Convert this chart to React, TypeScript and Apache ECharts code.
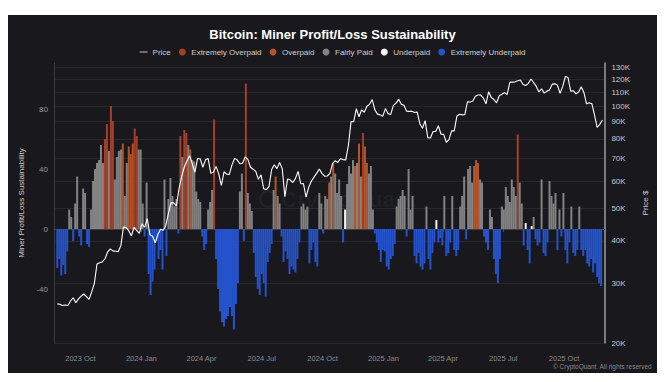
import React, { useEffect, useRef } from "react";
import * as echarts from "echarts";

// ---- data ----
// Miner Profit/Loss Sustainability, one reading every 3 days from 2023-08-27
const BAR_START: [number, number, number] = [2023, 7, 27];
const BAR_STEP_DAYS = 3;
const sustainability: number[] = [
  -26, -20, -31, -24, -30, -15, 13, 8, -8, 17,
  35, -5, -11, 27, 24, -10, -12, 13, 32, 40,
  44, 46, 56, 44, 60, 70, 52, 82, 72, 33,
  48, 52, 53, 57, 22, 44, 55, 50, 57, 67,
  62, 53, 53, 17, -5, 31, -30, -44, -35, -27,
  -8, -20, -14, -27, 33, -18, 20, 34, 22, 15,
  20, -3, 62, 48, 66, 64, 56, 53, 46, 45,
  25, 20, 18, -5, -14, -10, 13, 18, 26, 73,
  -20, -40, -55, -62, -65, -60, -58, -52, -58, -67,
  -50, -36, 25, 37, -8, 97, 24, 17, 12, -16,
  -32, -40, -44, -30, -36, -45, -22, -16, -10, 26,
  35, 22, 17, -5, -22, -15, -20, -30, -25, -27,
  -29, -20, -9, 15, 17, 13, 15, -23, -14, -9,
  -22, -25, 24, 17, -3, 22, 20, 31, 35, 44,
  37, 24, 33, 22, -9, 13, 30, 42, 37, 46,
  42, 44, 57, 35, 64, 55, 44, 37, 42, 13,
  -3, -9, -14, -22, -14, -15, -25, -27, -20, -18,
  -10, 15, 20, 22, 26, 22, -5, 40, 13, 22,
  -18, -23, -16, -25, -27, -23, 15, -20, -27, -16,
  -9, 6, -9, -6, -11, 22, -18, -16, -9, 22,
  -14, -18, -14, 15, 22, 35, -7, 40, 42, 31,
  42, 46, 44, 33, 31, -5, -9, -14, 13, 8,
  -20, -30, -36, -20, 15, 13, 28, 22, 18, 33,
  28, 22, 63, 31, 17, -11, 4, -14, -23, 2,
  8, -7, -11, -9, 33, -16, -18, -9, 32, 22,
  17, 24, -14, 13, -5, 24, -14, -23, -9, 15,
  -16, -18, -14, 15, -14, -18, -14, -23, -25, -20,
  -29, -23, -32, -36, -38,
];
// zone of each reading: r = extremely overpaid, o = overpaid, g = fairly paid, w = underpaid, b = extremely underpaid
const zoneCodes: string[] = [
  "bbbbbbggbg", "gbbggbbggg", "ggggrrgrrg", "gggoggooor", "rgggbgbbbb",
  "bbbbgbgggg", "gbrgrrgogg", "gggbbbgggr", "bbbbbbbbbb", "bbggbrgggb",
  "bbbbbbbbbg", "oggbbbbbbb", "bbbggggbbb", "bbggbggogo", "ggggbwgggg",
  "ogogrooggg", "bbbbbbbbbb", "bgggggbggg", "bbbbbbgbbb", "bwbbbgbbbg",
  "bbbgggbggg", "oooggbbbgg", "bbbbgggggg", "ggrggbwbbw", "gbbbgbbbgg",
  "ggbgbgbbbg", "bbbgbbbbbb", "bbbbb",
];

// BTC price (thousand USD), one reading every 4 days from 2023-08-27
const PRICE_START: [number, number, number] = [2023, 7, 27];
const PRICE_STEP_DAYS = 4;
const priceK: number[] = [
  26.1, 26.0, 25.8, 25.9, 25.8, 26.6, 27.2, 26.3, 27.0, 27.5,
  27.9, 27.4, 26.9, 28.3, 30.0, 34.2, 34.5, 34.7, 35.4, 37.1,
  37.9, 37.4, 37.3, 37.2, 38.7, 44.0, 43.8, 42.9, 41.4, 43.9,
  43.0, 42.1, 44.9, 43.9, 46.6, 41.7, 41.3, 39.5, 41.8, 43.3,
  43.0, 44.3, 48.3, 51.9, 51.8, 50.8, 57.1, 62.0, 66.1, 68.9,
  71.4, 67.6, 63.8, 70.0, 69.9, 66.0, 69.4, 70.0, 63.4, 63.8,
  66.4, 63.1, 58.3, 64.0, 63.0, 62.9, 67.0, 70.1, 69.3, 67.6,
  67.8, 70.8, 69.6, 66.0, 65.1, 64.2, 60.8, 62.7, 57.0, 56.7,
  57.9, 65.0, 67.1, 65.4, 68.2, 65.4, 54.0, 60.9, 60.6, 59.5,
  61.2, 64.2, 59.0, 59.1, 53.9, 57.6, 60.0, 61.7, 63.3, 65.2,
  63.3, 62.1, 62.2, 63.2, 67.6, 69.0, 68.2, 69.9, 69.5, 69.4,
  76.5, 90.0, 89.9, 98.3, 93.0, 97.5, 95.9, 99.9, 101.2, 104.5,
  97.5, 94.7, 94.2, 93.4, 98.3, 95.0, 94.5, 100.5, 102.0, 104.7,
  101.3, 100.6, 96.6, 96.5, 96.6, 95.7, 96.1, 88.7, 86.0, 90.6,
  80.7, 80.5, 84.1, 84.1, 87.5, 82.6, 82.5, 78.2, 79.6, 84.5,
  84.5, 93.4, 94.6, 94.2, 94.3, 103.0, 102.8, 103.5, 106.9, 107.8,
  107.8, 105.6, 101.5, 110.3, 106.0, 104.6, 102.2, 107.3, 108.4, 109.6,
  108.2, 117.5, 117.7, 117.9, 118.8, 119.4, 115.8, 115.0, 116.7, 120.2,
  117.4, 114.3, 110.1, 112.5, 109.2, 110.7, 111.5, 115.9, 116.5, 115.2,
  109.0, 114.3, 122.3, 121.4, 110.7, 111.0, 108.6, 110.1, 114.1, 109.6,
  101.5, 102.3, 101.6, 94.2, 86.6, 88.3, 91.0,
];

const X_MIN: [number, number, number] = [2023, 7, 22];
const X_MAX: [number, number, number] = [2025, 11, 1];
const quarterTicks: [number, number][] = [
  [2023, 9], [2024, 0], [2024, 3], [2024, 6], [2024, 9],
  [2025, 0], [2025, 3], [2025, 6], [2025, 9],
];
const MONTHS = ["Jan", "Feb", "Mar", "Apr", "May", "Jun", "Jul", "Aug", "Sep", "Oct", "Nov", "Dec"];
const leftTicks = [-40, 0, 40, 80];
const priceTicksK = [20, 30, 40, 50, 60, 70, 80, 90, 100, 110, 120, 130];

const ZONES = [
  { code: "r", name: "Extremely Overpaid", color: "#a4402a" },
  { code: "o", name: "Overpaid", color: "#b2552b" },
  { code: "g", name: "Fairly Paid", color: "#838383" },
  { code: "w", name: "Underpaid", color: "#f2f2f2" },
  { code: "b", name: "Extremely Underpaid", color: "#2453cc" },
];

const FONT = "'Liberation Sans', Arial, sans-serif";

export default function App() {
  const ref = useRef<HTMLDivElement>(null);

  useEffect(() => {
    if (!ref.current) return;
    const chart = echarts.init(ref.current, undefined, { renderer: "svg" });

    const codes = zoneCodes.join("").split("");
    const barTime = (j: number) =>
      new Date(BAR_START[0], BAR_START[1], BAR_START[2] + j * BAR_STEP_DAYS).getTime();
    const priceTime = (i: number) =>
      new Date(PRICE_START[0], PRICE_START[1], PRICE_START[2] + i * PRICE_STEP_DAYS).getTime();

    const barSeries = ZONES.map((z) => ({
      name: z.name,
      type: "bar",
      yAxisIndex: 0,
      barWidth: 2,
      barGap: "-100%",
      itemStyle: { color: z.color },
      data: sustainability
        .map((v, j) => (codes[j] === z.code ? [barTime(j), v] : null))
        .filter((d) => d !== null),
      z: 2,
    }));

    const priceSeries = {
      name: "Price",
      type: "line",
      yAxisIndex: 1,
      showSymbol: false,
      symbol: "none",
      color: "#ffffff",
      lineStyle: { color: "#ffffff", width: 1.1 },
      data: priceK.map((p, i) => [priceTime(i), p]),
      z: 5,
    };

    const quarterValues = quarterTicks.map(([y, m]) => new Date(y, m, 1).getTime());

    chart.setOption({
      animation: false,
      backgroundColor: "#18181d",
      textStyle: { fontFamily: FONT },
      title: {
        text: "Bitcoin: Miner Profit/Loss Sustainability",
        left: "center",
        top: 8,
        textStyle: { color: "#ffffff", fontSize: 13, fontWeight: "bold", fontFamily: FONT },
      },
      legend: {
        top: 28,
        left: "center",
        itemWidth: 8,
        itemHeight: 7,
        itemGap: 8,
        textStyle: { color: "#d0d0d0", fontSize: 8, fontFamily: FONT },
        data: [
          { name: "Price", icon: "path://M0 3h14v1.3H0z" },
          ...ZONES.map((z) => ({ name: z.name, icon: "circle" })),
        ],
      },
      grid: { left: 46, right: 52, top: 48, bottom: 30 },
      xAxis: {
        type: "value",
        min: new Date(X_MIN[0], X_MIN[1], X_MIN[2]).getTime(),
        max: new Date(X_MAX[0], X_MAX[1], X_MAX[2]).getTime(),
        axisLine: { show: true, lineStyle: { color: "#3c3c42" } },
        axisTick: { show: true, length: 3, customValues: quarterValues, lineStyle: { color: "#4a4a50" } },
        axisLabel: {
          customValues: quarterValues,
          color: "#8c8c8c",
          fontSize: 7.5,
          margin: 11,
          fontFamily: FONT,
          formatter: (val: number) => {
            const d = new Date(val);
            return `${d.getFullYear()} ${MONTHS[d.getMonth()]}`;
          },
        },
        splitLine: { show: false },
      },
      yAxis: [
        {
          type: "value",
          position: "left",
          min: -76,
          max: 110.7,
          name: "Miner Profit/Loss Sustainability",
          nameLocation: "middle",
          nameGap: 20,
          nameTextStyle: { color: "#cfcfcf", fontSize: 8, fontFamily: FONT },
          axisLine: { show: true, lineStyle: { color: "#3c3c42" } },
          axisTick: { show: false },
          axisLabel: { customValues: leftTicks, color: "#9a9a9a", fontSize: 8, margin: 6, fontFamily: FONT },
          splitLine: { show: false },
        },
        {
          type: "log",
          logBase: 10,
          position: "right",
          min: 20,
          max: 134,
          name: "Price $",
          nameLocation: "middle",
          nameGap: 28,
          nameTextStyle: { color: "#cfcfcf", fontSize: 8, fontFamily: FONT },
          axisLine: { show: true, lineStyle: { color: "#9c9c9c", width: 1.5 } },
          axisTick: { show: false, customValues: priceTicksK },
          axisLabel: {
            customValues: priceTicksK,
            color: "#c8c8c8",
            fontSize: 8,
            margin: 7,
            fontFamily: FONT,
            formatter: (v: number) => `${Math.round(v)}K`,
          },
          splitLine: { show: true, lineStyle: { color: "rgba(255,255,255,0.07)", width: 1 } },
        },
      ],
      graphic: [
        {
          type: "ring",
          shape: { cx: 260, cy: 184, r: 9, r0: 6.5 },
          style: { fill: "rgba(255,255,255,0.045)" },
          z: 0,
        },
        {
          type: "text",
          left: 273,
          top: 173,
          z: 0,
          style: { text: "CryptoQuant", fill: "rgba(255,255,255,0.045)", fontSize: 22, fontWeight: "bold", fontFamily: FONT },
        },
        {
          type: "text",
          right: 5,
          top: 348,
          style: { text: "© CryptoQuant. All rights reserved", fill: "#8a8a8a", fontSize: 6.5, fontFamily: FONT },
        },
      ],
      series: [...barSeries, priceSeries],
    });

    return () => chart.dispose();
  }, []);

  return (
    <div style={{ paddingTop: 7 }}>
      <div ref={ref} style={{ width: 649, height: 358 }} />
    </div>
  );
}
